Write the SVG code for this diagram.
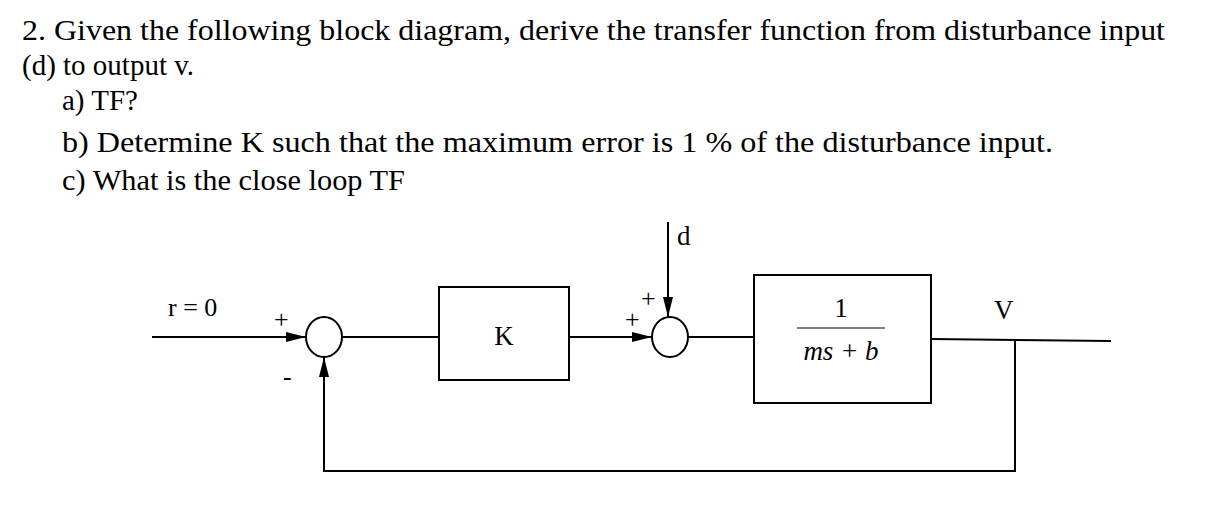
<svg xmlns="http://www.w3.org/2000/svg" width="1230" height="510" viewBox="0 0 1230 510">
<defs>
<style>
text{font-family:"Liberation Serif","Times New Roman",serif;fill:#000}
.q{font-size:29px}
.l{font-size:27px}
.s{font-size:26px}
.ln{stroke:#000;stroke-width:2;fill:none}
</style>
<marker id="a" markerWidth="20" markerHeight="10" refX="20" refY="5" orient="auto" markerUnits="userSpaceOnUse"><path d="M0,0 L20,5 L0,10 Z" fill="#000"/></marker>
</defs>
<rect width="1230" height="510" fill="#fff"/>
<text class="q" x="22" y="40" textLength="1143" lengthAdjust="spacingAndGlyphs">2. Given the following block diagram, derive the transfer function from disturbance input</text>
<text class="q" x="22" y="75">(d) to output v.</text>
<text class="q" x="62" y="110">a) TF?</text>
<text class="q" x="62" y="152" textLength="991" lengthAdjust="spacingAndGlyphs">b) Determine K such that the maximum error is 1 % of the disturbance input.</text>
<text class="q" x="62" y="190" textLength="343" lengthAdjust="spacingAndGlyphs">c) What is the close loop TF</text>
<g id="sum1"><ellipse cx="324" cy="337" rx="18" ry="20" class="ln"/></g>
<g id="K"><rect x="439" y="287" width="130" height="93" class="ln"/><text class="l" x="504" y="345" text-anchor="middle">K</text></g>
<g id="sum2"><ellipse cx="670" cy="337" rx="18" ry="20" class="ln"/></g>
<g id="plant"><rect x="754" y="275" width="177" height="128" class="ln"/><text class="l" x="841" y="317" text-anchor="middle">1</text><line x1="797" y1="328" x2="885" y2="328" stroke="#000" stroke-width="1.2"/><text class="l" x="841" y="360" text-anchor="middle" font-style="italic">ms + b</text></g>
<g id="connectors">
<line x1="152" y1="337" x2="306" y2="337" class="ln" marker-end="url(#a)"/>
<line x1="342" y1="337" x2="439" y2="337" class="ln"/>
<line x1="569" y1="337" x2="652" y2="337" class="ln" marker-end="url(#a)"/>
<line x1="668" y1="222" x2="668" y2="317" class="ln" marker-end="url(#a)"/>
<line x1="688" y1="337" x2="754" y2="337" class="ln"/>
<line x1="931" y1="339" x2="1111" y2="341" class="ln"/>
<polyline points="1015,340 1015,471 324,471 324,357" class="ln" marker-end="url(#a)"/>
</g>
<text class="s" x="168" y="316">r = 0</text>
<text class="s" x="274" y="328">+</text>
<text class="s" x="283" y="385">-</text>
<text class="s" x="625" y="328">+</text>
<text class="s" x="641" y="307">+</text>
<text class="l" x="677" y="245">d</text>
<text class="l" x="994" y="319">V</text>
</svg>
